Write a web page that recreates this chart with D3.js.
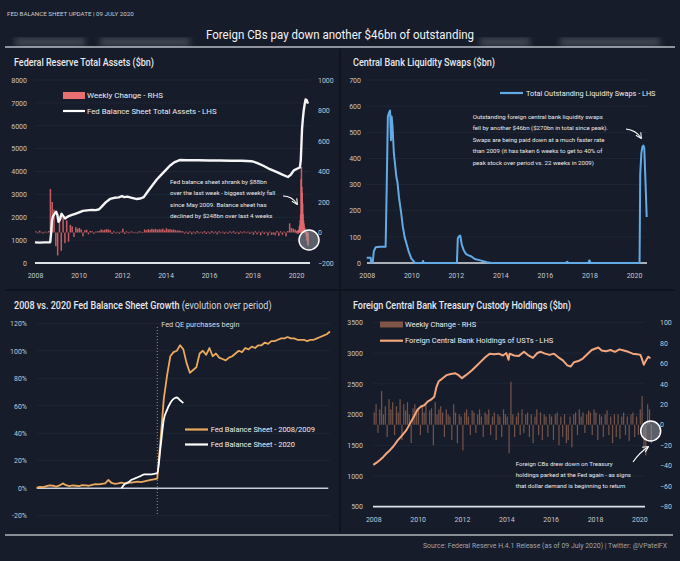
<!doctype html>
<html lang="en">
<head>
  <meta charset="UTF-8">
  <script src="https://cdn.jsdelivr.net/npm/d3@7"></script>
  <title>Fed balance sheet update</title>
  <style>
    body{margin:0;background:#161c29;}
    svg{display:block;font-family:Roboto, "Noto Sans", sans-serif;}
  </style>
</head>
<body>
<div class="chart"></div>
<script>
// ---- data ----
const yearTicks = [2008, 2010, 2012, 2014, 2016, 2018, 2020];

// Fed total assets, $bn (LHS)
const fedYears = [2008.0, 2008.2, 2008.45, 2008.7, 2008.74, 2008.78, 2008.83, 2008.9, 2008.97, 2009.03, 2009.08, 2009.15, 2009.22, 2009.3, 2009.38, 2009.46, 2009.55, 2009.7, 2009.85, 2010.0, 2010.2, 2010.4, 2010.6, 2010.8, 2010.95, 2011.1, 2011.25, 2011.45, 2011.65, 2011.85, 2012.0, 2012.1, 2012.25, 2012.45, 2012.65, 2012.85, 2013.0, 2013.2, 2013.4, 2013.6, 2013.8, 2014.0, 2014.2, 2014.4, 2014.65, 2015.0, 2015.5, 2016.0, 2016.5, 2017.0, 2017.5, 2017.95, 2018.2, 2018.5, 2018.8, 2019.1, 2019.4, 2019.63, 2019.75, 2019.9, 2020.05, 2020.18, 2020.22, 2020.25, 2020.28, 2020.32, 2020.36, 2020.4, 2020.44, 2020.49, 2020.55];
const fedAssets = [900, 890, 900, 910, 1300, 1850, 2050, 2150, 2240, 2100, 1800, 1900, 2150, 2050, 1950, 2000, 2050, 2100, 2150, 2200, 2280, 2300, 2320, 2310, 2350, 2500, 2650, 2800, 2850, 2870, 2920, 2880, 2900, 2850, 2800, 2820, 2880, 3150, 3400, 3650, 3850, 4050, 4250, 4400, 4500, 4490, 4490, 4480, 4480, 4470, 4470, 4450, 4380, 4250, 4100, 3980, 3850, 3760, 3850, 4050, 4120, 4180, 4500, 5200, 5900, 6350, 6700, 6950, 7150, 7120, 6970];

// Fed weekly change, $bn (RHS) - monthly samples 2008-2019, weekly 2020
const fedChgMonthly = [
  8, -6, 12, 5, -7, 6, -4, 10, 285, 200, 150, -90,
  -150, 110, -120, 100, -70, 80, -60, 50, 40, -30, 35, 25,
  30, 20, -25, 15, 18, -12, 10, 8, -8, 6, 8, 10,
  20, 15, 18, 22, 20, 15, -10, 8, -6, 5, -8, 6,
  25, -10, 8, -6, 5, 7, -5, 4, -6, 8, 5, -4,
  20, 15, 22, 18, 25, 20, 24, 18, 22, 20, 25, 15,
  28, 20, 22, 18, 20, 15, 12, 14, 10, 8, -8, 6,
  -10, 8, -12, 6, -8, 10, -6, 5, -7, 9, -10, 6,
  -8, 10, -6, 7, -12, 8, -5, 6, -9, 5, -7, 8,
  -6, 9, -8, 5, -10, 7, -6, 8, -5, 6, -9, 5,
  -15, 8, -12, 6, -18, 7, -10, 5, -20, 6, -15, -12,
  -18, 10, -22, 8, -15, 6, -25, 10, 60, 30, 25, 20
];
const fedChg2020 = [10, -5, 8, 6, 15, -10, 12, 20, 40, 50, 80, 120, 350, 430, 300, 260, 190, 120, 80, 60, 40, 30, 20, 10, -15, -30, -50, -60, -75, -88];

// Central bank liquidity swaps, $bn
const swapYears = [2008.0, 2008.18, 2008.2, 2008.27, 2008.32, 2008.4, 2008.6, 2008.85, 2008.9, 2008.95, 2009.0, 2009.05, 2009.09, 2009.12, 2009.16, 2009.22, 2009.27, 2009.33, 2009.38, 2009.45, 2009.55, 2009.62, 2009.7, 2009.8, 2009.88, 2010.0, 2010.17, 2010.5, 2010.53, 2010.56, 2012.05, 2012.09, 2012.15, 2012.2, 2012.27, 2012.35, 2012.45, 2012.55, 2012.7, 2012.85, 2013.1, 2013.4, 2013.6, 2016.95, 2017.0, 2017.05, 2017.95, 2018.0, 2018.05, 2020.25, 2020.28, 2020.33, 2020.38, 2020.42, 2020.46, 2020.52, 2020.57];
const swapVals = [20, 20, 2, 2, 45, 60, 62, 62, 300, 560, 575, 583, 470, 560, 520, 420, 380, 330, 310, 250, 190, 140, 100, 70, 45, 18, 0, 0, 8, 0, 0, 95, 103, 105, 70, 50, 35, 30, 25, 15, 10, 3, 0, 0, 5, 0, 0, 10, 0, 0, 340, 420, 445, 449, 440, 300, 176];

// Growth since start of period, % (week index)
const qeWeek = 37;
const growth2008 = [
  0.5, 1, 0.8, 1.5, 2, 1.8, 1.2, 2, 3.5, 2.2,
  1.5, 2, 1.8, 1.5, 2.2, 2, 1.8, 2.5, 3, 2.8,
  3.2, 3.5, 6, 3.8, 3.2, 3.5, 4, 3.5, 4.2, 4,
  4.5, 4.8, 4.5, 5, 5.5, 6, 6.5,
  7, 35, 65, 82, 96, 99, 100, 104, 101, 91,
  84, 86, 88, 98, 100, 97, 102, 96, 98, 95,
  94, 93, 95, 96, 98, 100, 99, 102, 101, 103,
  102, 104, 104, 106, 105, 107, 107, 108, 109, 109,
  110, 109, 109, 108, 108, 108, 107, 108, 108, 109,
  110, 111, 112, 114
];
const growth2020Start = 26;
const growth2020 = [0, 3, 4, 6, 7, 8, 9, 10, 10, 10, 10.5, 11, 30, 50, 57, 62, 65, 66, 64, 62];

// Foreign CB Treasury custody holdings, $bn (LHS)
const custYears = [2008.0, 2008.2, 2008.3, 2008.45, 2008.6, 2008.75, 2008.9, 2009.1, 2009.3, 2009.5, 2009.7, 2009.85, 2010.0, 2010.15, 2010.3, 2010.45, 2010.6, 2010.75, 2010.85, 2010.95, 2011.1, 2011.3, 2011.5, 2011.7, 2011.85, 2012.0, 2012.1, 2012.25, 2012.45, 2012.65, 2012.85, 2013.05, 2013.25, 2013.45, 2013.65, 2013.85, 2014.0, 2014.1, 2014.15, 2014.35, 2014.55, 2014.8, 2015.0, 2015.2, 2015.4, 2015.55, 2015.75, 2015.95, 2016.15, 2016.35, 2016.55, 2016.75, 2016.9, 2017.05, 2017.25, 2017.45, 2017.65, 2017.85, 2018.0, 2018.15, 2018.3, 2018.5, 2018.7, 2018.9, 2019.1, 2019.3, 2019.5, 2019.7, 2019.9, 2020.05, 2020.12, 2020.2, 2020.3, 2020.4, 2020.5];
const custVals = [1180, 1230, 1260, 1310, 1370, 1420, 1480, 1580, 1660, 1750, 1880, 1980, 2080, 2130, 2150, 2210, 2240, 2290, 2450, 2540, 2580, 2640, 2660, 2670, 2640, 2590, 2620, 2660, 2720, 2790, 2860, 2930, 2990, 2980, 2990, 2960, 3000, 2890, 2990, 2960, 2950, 3020, 2960, 2920, 3000, 3020, 2990, 2970, 2990, 2930, 2880, 2800, 2780, 2850, 2870, 2910, 2980, 3050, 3070, 3090, 3040, 3030, 3050, 3020, 3060, 3040, 3020, 2990, 2980, 2970, 2900, 2810, 2880, 2940, 2915];

// Foreign CB custody weekly change, $bn (RHS) - monthly samples
const custChg = [
  12, 20, -8, 15, 33, 10, 18, -12, 25, 15, 22, -10,
  18, 12, 25, -15, 20, 14, 22, 10, -18, 16, 20, 12,
  15, -10, 18, 12, 20, -8, 14, 16, -20, 22, 10, 15,
  18, 12, -12, 15, 10, 8, -15, 20, 12, -18, 10, 8,
  -25, 12, 15, 8, -10, 14, 12, -8, 10, 15, 8, -12,
  12, 10, 15, -10, 8, 12, -15, 10, 8, -12, 15, 10,
  8, -28, 42, 10, -12, 8, 12, -10, 15, -8, 10, 12,
  -12, 10, -18, 8, 15, -10, 12, -15, 10, 8, -12, 10,
  8, -15, 10, 12, -20, 8, -12, 10, -18, -15, 8, -22,
  10, 12, -10, 15, 8, 12, -8, 10, 14, 12, -10, 15,
  12, -15, 10, 8, -12, 10, 14, -10, 8, -18, 10, -12,
  10, -14, 8, 12, -10, 8, -16, 10, 12, -12, 8, -10,
  15, 28, -25, -30, 20, 15, -18
];

// ---- chart ----
const W = 680, H = 561;
const bg = '#161c29', txt = '#e6e8ee', tick = '#c3c8d2', grid = '#1f2635';
const svg = d3.select('.chart').append('svg').attr('width', W).attr('height', H);
svg.append('rect').attr('width', W).attr('height', H).attr('fill', bg);

const defs = svg.append('defs');
defs.append('marker').attr('id', 'arr').attr('viewBox', '0 0 10 10')
  .attr('refX', 8).attr('refY', 5).attr('markerWidth', 6).attr('markerHeight', 6).attr('orient', 'auto')
  .append('path').attr('d', 'M1,1 L9,5 L1,9').attr('fill', 'none').attr('stroke', '#fff').attr('stroke-width', 1.4);
defs.append('filter').attr('id', 'blur').append('feGaussianBlur').attr('stdDeviation', 3);

function styleAxis(g, size){
  g.attr('font-family', 'Roboto, sans-serif').attr('font-size', size);
  g.select('.domain').remove();
  g.selectAll('.tick line').remove();
  g.selectAll('.tick text').attr('fill', tick);
}
function label(x, y, s, size, opts = {}){
  const t = (opts.parent || svg).append('text').attr('x', x).attr('y', y).text(s)
    .attr('font-size', size).attr('fill', opts.fill || txt)
    .attr('font-weight', opts.weight || 400)
    .attr('text-anchor', opts.anchor || 'start');
  if (opts.len) t.attr('textLength', opts.len).attr('lengthAdjust', 'spacingAndGlyphs');
  return t;
}
function hgrid(scale, vals, x0, x1){
  svg.append('g').selectAll('line').data(vals).join('line')
    .attr('x1', x0).attr('x2', x1).attr('y1', d => scale(d)).attr('y2', d => scale(d))
    .attr('stroke', grid).attr('stroke-width', 1);
}
const fmt = d3.format('d');

// header
label(7, 16, 'FED BALANCE SHEET UPDATE  |  09 JULY 2020', 6.2, {fill: '#c9ccd4'});
svg.append('g').attr('filter', 'url(#blur)').attr('opacity', 0.35).selectAll('rect')
  .data([[15, 70], [100, 90], [480, 50], [560, 100]]).join('rect')
  .attr('x', d => d[0]).attr('y', 38).attr('width', d => d[1]).attr('height', 8).attr('fill', '#9aa0ac');
label(206, 39, 'Foreign CBs pay down another $46bn of outstanding', 12.5, {fill: '#f2f3f6', len: 268});
svg.append('line').attr('x1', 5).attr('x2', 675).attr('y1', 47).attr('y2', 47).attr('stroke', '#b9bdc6').attr('stroke-width', 1.6);

// panel dividers
svg.append('line').attr('x1', 340).attr('x2', 340).attr('y1', 49).attr('y2', 532).attr('stroke', '#0e121b').attr('stroke-width', 1.5);
svg.append('line').attr('x1', 5).attr('x2', 675).attr('y1', 290).attr('y2', 290).attr('stroke', '#0e121b').attr('stroke-width', 1.5);

// ===== Panel 1: Fed total assets =====
const x1 = d3.scaleLinear().domain([2008, 2020]).range([35, 296]);
const y1L = d3.scaleLinear().domain([0, 8000]).range([263, 80]);
const y1R = d3.scaleLinear().domain([-200, 1000]).range([263, 80]);
label(14, 66, 'Federal Reserve Total Assets ($bn)', 10.5, {weight: 500, len: 140});
hgrid(y1L, y1L.ticks(8).filter(d => d > 0), 35, 310);
svg.append('g').attr('transform', 'translate(35,0)')
  .call(d3.axisLeft(y1L).ticks(8).tickFormat(fmt).tickSize(0).tickPadding(8)).call(styleAxis, 7);
svg.append('g').attr('transform', 'translate(310,0)')
  .call(d3.axisRight(y1R).tickValues([-200, 0, 200, 400, 600, 800, 1000]).tickFormat(fmt).tickSize(0).tickPadding(8)).call(styleAxis, 7);
svg.append('g').attr('transform', 'translate(0,263)')
  .call(d3.axisBottom(x1).tickValues(yearTicks).tickFormat(fmt).tickSize(0).tickPadding(10)).call(styleAxis, 7);

const fedChg = fedChgMonthly.map((v, i) => ({t: 2008 + (i + 0.5) / 12, v}))
  .concat(fedChg2020.map((v, i) => ({t: 2020 + i / 52, v})));
svg.append('g').selectAll('rect').data(fedChg).join('rect')
  .attr('x', d => x1(d.t) - 0.75).attr('width', 1.5)
  .attr('y', d => Math.min(y1R(d.v), y1R(0))).attr('height', d => Math.abs(y1R(d.v) - y1R(0)))
  .attr('fill', '#e4686c').attr('opacity', 0.85);
svg.append('line').attr('x1', 35).attr('x2', 310).attr('y1', y1L(0)).attr('y2', y1L(0)).attr('stroke', '#dde1e8').attr('stroke-width', 2);
svg.append('path').datum(fedAssets)
  .attr('d', d3.line().x((d, i) => x1(fedYears[i])).y(d => y1L(d)))
  .attr('fill', 'none').attr('stroke', '#f5f5f5').attr('stroke-width', 2.4).attr('stroke-linejoin', 'round');

// legend 1
svg.append('rect').attr('x', 63).attr('y', 92).attr('width', 22).attr('height', 7).attr('fill', '#e66f72');
label(87, 98, 'Weekly Change - RHS', 8, {fill: '#eceef2'});
svg.append('line').attr('x1', 63).attr('x2', 85).attr('y1', 111).attr('y2', 111).attr('stroke', '#fff').attr('stroke-width', 2.2);
label(87, 113.5, 'Fed Balance Sheet Total Assets - LHS', 7.8, {fill: '#eceef2'});

// annotation 1
['Fed balance sheet shrank by $88bn', 'over the last week - biggest weekly fall', 'since May 2009. Balance sheet has', 'declined by $248bn over last 4 weeks']
  .forEach((s, i) => label(170, 184 + i * 11.3, s, 6.2, {fill: '#e8eaee'}));
svg.append('path').attr('d', 'M283,196 Q292,196 297,204').attr('fill', 'none').attr('stroke', '#fff').attr('stroke-width', 1.2).attr('marker-end', 'url(#arr)');
svg.append('circle').attr('cx', 309).attr('cy', 240).attr('r', 10).attr('fill', 'rgba(150,152,160,0.55)').attr('stroke', '#fff').attr('stroke-width', 1.5);

// ===== Panel 2: liquidity swaps =====
const x2 = d3.scaleLinear().domain([2008, 2020]).range([366.7, 634]);
const y2 = d3.scaleLinear().domain([0, 700]).range([263, 80]);
label(353, 66, 'Central Bank Liquidity Swaps ($bn)', 10.5, {weight: 500, len: 142});
hgrid(y2, y2.ticks(7).filter(d => d > 0), 367, 647);
svg.append('g').attr('transform', 'translate(367,0)')
  .call(d3.axisLeft(y2).ticks(7).tickFormat(fmt).tickSize(0).tickPadding(6)).call(styleAxis, 7);
svg.append('g').attr('transform', 'translate(0,263)')
  .call(d3.axisBottom(x2).tickValues(yearTicks).tickFormat(fmt).tickSize(0).tickPadding(10)).call(styleAxis, 7);
svg.append('line').attr('x1', 367).attr('x2', 647).attr('y1', y2(0)).attr('y2', y2(0)).attr('stroke', '#dde1e8').attr('stroke-width', 1.6);
svg.append('path').datum(swapVals)
  .attr('d', d3.line().x((d, i) => x2(swapYears[i])).y(d => y2(d)))
  .attr('fill', 'none').attr('stroke', '#62abe6').attr('stroke-width', 2).attr('stroke-linejoin', 'round');

svg.append('line').attr('x1', 500).attr('x2', 523).attr('y1', 93).attr('y2', 93).attr('stroke', '#62abe6').attr('stroke-width', 2.2);
label(526, 95.5, 'Total Outstanding Liquidity Swaps - LHS', 7.3, {fill: '#eceef2'});
['Outstanding foreign central bank liquidity swaps', 'fell by another $46bn ($270bn in total since peak).', 'Swaps are being paid down at a much faster rate', 'than 2009 (it has taken 6 weeks to get to 40% of', 'peak stock over period vs. 22 weeks in 2009)']
  .forEach((s, i) => label(472.7, 119 + i * 11.4, s, 6.1, {fill: '#e8eaee'}));
svg.append('path').attr('d', 'M626,129 Q636,130 641,138').attr('fill', 'none').attr('stroke', '#fff').attr('stroke-width', 1.2).attr('marker-end', 'url(#arr)');

// ===== Panel 3: growth comparison =====
const x3 = d3.scaleLinear().domain([0, 90]).range([36.7, 330]);
const y3 = d3.scaleLinear().domain([-20, 120]).range([515.7, 323.3]);
// title squeezed into the same narrow width as the reference font
const g3 = svg.append('g');
const t3 = label(0, 0, '', 10.5, {weight: 500, parent: g3});
t3.append('tspan').text('2008 vs. 2020 Fed Balance Sheet Growth ');
t3.append('tspan').text('(evolution over period)').attr('font-weight', 400).attr('fill', '#d2d5dc');
const k3 = 258 / t3.node().getComputedTextLength();
g3.attr('transform', `translate(14,309) scale(${k3},1)`);

hgrid(y3, [-20, 20, 40, 60, 80, 100, 120], 36.7, 330);
svg.append('g').attr('transform', 'translate(35,0)')
  .call(d3.axisLeft(y3).tickValues([-20, 0, 20, 40, 60, 80, 100, 120]).tickFormat(d => d + '%').tickSize(0).tickPadding(8)).call(styleAxis, 7);
svg.append('line').attr('x1', x3(qeWeek)).attr('x2', x3(qeWeek)).attr('y1', 327).attr('y2', 515)
  .attr('stroke', '#8a919f').attr('stroke-width', 1).attr('stroke-dasharray', '1,2');
label(x3(qeWeek) + 4, 326.5, 'Fed QE purchases begin', 7.3, {fill: '#d8dbe2'});
svg.append('line').attr('x1', 36.7).attr('x2', 328.3).attr('y1', y3(0)).attr('y2', y3(0)).attr('stroke', '#c8cdd8').attr('stroke-width', 1.5);
svg.append('path').datum(growth2008)
  .attr('d', d3.line().x((d, i) => x3(i)).y(d => y3(d)))
  .attr('fill', 'none').attr('stroke', '#eaa95e').attr('stroke-width', 1.8).attr('stroke-linejoin', 'round');
svg.append('path').datum(growth2020)
  .attr('d', d3.line().x((d, i) => x3(growth2020Start + i)).y(d => y3(d)).curve(d3.curveMonotoneX))
  .attr('fill', 'none').attr('stroke', '#ffffff').attr('stroke-width', 1.8);
svg.append('line').attr('x1', 185).attr('x2', 208).attr('y1', 429.5).attr('y2', 429.5).attr('stroke', '#eaa95e').attr('stroke-width', 2.2);
label(210.7, 432, 'Fed Balance Sheet - 2008/2009', 7.5, {fill: '#eceef2'});
svg.append('line').attr('x1', 185).attr('x2', 208).attr('y1', 444.5).attr('y2', 444.5).attr('stroke', '#fff').attr('stroke-width', 2.2);
label(210.7, 447, 'Fed Balance Sheet - 2020', 7.5, {fill: '#eceef2'});

// ===== Panel 4: custody holdings =====
const x4 = d3.scaleLinear().domain([2008, 2018]).range([373.3, 595]);
const y4L = d3.scaleLinear().domain([500, 3500]).range([506.7, 322.3]);
const y4R = d3.scaleLinear().domain([-80, 100]).range([506.7, 322.3]);
label(353, 309, 'Foreign Central Bank Treasury Custody Holdings ($bn)', 10.5, {weight: 500, len: 218});
hgrid(y4L, [1000, 1500, 2000, 2500, 3000, 3500], 373, 645);
svg.append('g').attr('transform', 'translate(371,0)')
  .call(d3.axisLeft(y4L).tickValues([500, 1000, 1500, 2000, 2500, 3000, 3500]).tickFormat(fmt).tickSize(0).tickPadding(8)).call(styleAxis, 7);
svg.append('g').attr('transform', 'translate(652,0)')
  .call(d3.axisRight(y4R).tickValues([-80, -60, -40, -20, 0, 20, 40, 60, 80, 100]).tickFormat(fmt).tickSize(0).tickPadding(8)).call(styleAxis, 7);
svg.append('g').attr('transform', 'translate(0,507)')
  .call(d3.axisBottom(x4).tickValues(yearTicks).tickFormat(fmt).tickSize(0).tickPadding(10)).call(styleAxis, 7);

const custBars = custChg.map((v, i) => ({t: 2008 + (i + 0.5) / 12, v}));
svg.append('g').selectAll('rect').data(custBars).join('rect')
  .attr('x', d => x4(d.t) - 0.6).attr('width', 1.2)
  .attr('y', d => Math.min(y4R(d.v), y4R(0))).attr('height', d => Math.abs(y4R(d.v) - y4R(0)))
  .attr('fill', '#a06c58').attr('opacity', 0.7);
svg.append('line').attr('x1', 373).attr('x2', 645).attr('y1', 506.7).attr('y2', 506.7).attr('stroke', '#dde1e8').attr('stroke-width', 1.8);
svg.append('path').datum(custVals)
  .attr('d', d3.line().x((d, i) => x4(custYears[i])).y(d => y4L(d)))
  .attr('fill', 'none').attr('stroke', '#f3a67e').attr('stroke-width', 2).attr('stroke-linejoin', 'round');

svg.append('rect').attr('x', 380).attr('y', 321.5).attr('width', 23).attr('height', 6).attr('fill', '#7e5546');
label(405, 327, 'Weekly Change - RHS', 7.5, {fill: '#eceef2'});
svg.append('line').attr('x1', 380).attr('x2', 403).attr('y1', 340.7).attr('y2', 340.7).attr('stroke', '#f3a67e').attr('stroke-width', 2.2);
label(405, 343, 'Foreign Central Bank Holdings of USTs - LHS', 7.5, {fill: '#eceef2'});
['Foreign CBs drew down on Treasury', 'holdings parked at the Fed again - as signs', 'that dollar demand is beginning to return']
  .forEach((s, i) => label(515.7, 465.5 + i * 11.2, s, 6.1, {fill: '#e8eaee'}));
svg.append('path').attr('d', 'M633,462 Q640,452 648,447').attr('fill', 'none').attr('stroke', '#fff').attr('stroke-width', 1.2).attr('marker-end', 'url(#arr)');
svg.append('circle').attr('cx', 650.7).attr('cy', 431).attr('r', 10).attr('fill', 'rgba(150,152,160,0.55)').attr('stroke', '#fff').attr('stroke-width', 1.5);

// footer
svg.append('line').attr('x1', 5).attr('x2', 673).attr('y1', 535).attr('y2', 535).attr('stroke', '#b0b4bd').attr('stroke-width', 1.5);
label(667, 548, 'Source: Federal Reserve H.4.1 Release (as of 09 July 2020) | Twitter: @VPatelFX', 6.9, {fill: '#9ea3ad', anchor: 'end'});
</script>
</body>
</html>
